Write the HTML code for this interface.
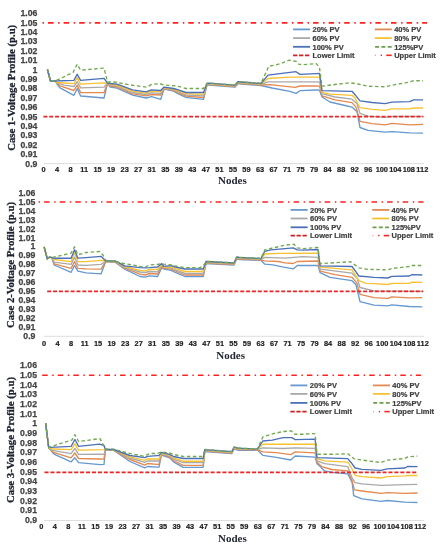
<!DOCTYPE html>
<html><head><meta charset="utf-8"><style>
html,body{margin:0;padding:0;background:#fff;width:442px;height:550px;overflow:hidden}
svg{display:block;filter:blur(0.35px)}
.yl{font-family:"Liberation Sans",sans-serif;font-weight:bold;font-size:8.7px;fill:#444;stroke:#444;stroke-width:0.25px}
.xl{font-family:"Liberation Sans",sans-serif;font-weight:bold;font-size:7.4px;fill:#222;stroke:#222;stroke-width:0.2px}
.lg{font-family:"Liberation Sans",sans-serif;font-weight:bold;font-size:7.5px;fill:#3f3f3f;stroke:#3f3f3f;stroke-width:0.22px}
.tt{font-family:"Liberation Serif",serif;font-weight:bold;font-size:10.75px;fill:#1c2230;stroke:#1c2230;stroke-width:0.3px}
.nd{font-family:"Liberation Serif",serif;font-weight:bold;font-size:11px;fill:#1f2430}
</style></head><body>
<svg width="442" height="550" viewBox="0 0 442 550">

<text class="yl" x="37.4" y="16.2" text-anchor="end">1.06</text>
<text class="yl" x="37.4" y="25.6" text-anchor="end">1.05</text>
<text class="yl" x="37.4" y="35.0" text-anchor="end">1.04</text>
<text class="yl" x="37.4" y="44.4" text-anchor="end">1.03</text>
<text class="yl" x="37.4" y="53.8" text-anchor="end">1.02</text>
<text class="yl" x="37.4" y="63.2" text-anchor="end">1.01</text>
<text class="yl" x="37.4" y="72.6" text-anchor="end">1</text>
<text class="yl" x="37.4" y="82.0" text-anchor="end">0.99</text>
<text class="yl" x="37.4" y="91.4" text-anchor="end">0.98</text>
<text class="yl" x="37.4" y="100.7" text-anchor="end">0.97</text>
<text class="yl" x="37.4" y="110.1" text-anchor="end">0.96</text>
<text class="yl" x="37.4" y="119.5" text-anchor="end">0.95</text>
<text class="yl" x="37.4" y="128.9" text-anchor="end">0.94</text>
<text class="yl" x="37.4" y="138.3" text-anchor="end">0.93</text>
<text class="yl" x="37.4" y="147.7" text-anchor="end">0.92</text>
<text class="yl" x="37.4" y="157.1" text-anchor="end">0.91</text>
<text class="yl" x="37.4" y="166.5" text-anchor="end">0.9</text>
<text class="tt" x="0" y="0" text-anchor="middle" transform="translate(15.1,87.8) rotate(-90)">Case 1-Voltage Profile (p.u)</text>
<line x1="44" y1="163.6" x2="424" y2="163.6" stroke="#dedede" stroke-width="1"/>
<text class="xl" x="43.5" y="172.2" text-anchor="middle">0</text>
<text class="xl" x="57.0" y="172.2" text-anchor="middle">4</text>
<text class="xl" x="70.6" y="172.2" text-anchor="middle">8</text>
<text class="xl" x="84.1" y="172.2" text-anchor="middle">11</text>
<text class="xl" x="97.6" y="172.2" text-anchor="middle">15</text>
<text class="xl" x="111.1" y="172.2" text-anchor="middle">19</text>
<text class="xl" x="124.7" y="172.2" text-anchor="middle">23</text>
<text class="xl" x="138.2" y="172.2" text-anchor="middle">27</text>
<text class="xl" x="151.7" y="172.2" text-anchor="middle">31</text>
<text class="xl" x="165.3" y="172.2" text-anchor="middle">35</text>
<text class="xl" x="178.8" y="172.2" text-anchor="middle">39</text>
<text class="xl" x="192.3" y="172.2" text-anchor="middle">43</text>
<text class="xl" x="205.9" y="172.2" text-anchor="middle">47</text>
<text class="xl" x="219.4" y="172.2" text-anchor="middle">51</text>
<text class="xl" x="232.9" y="172.2" text-anchor="middle">55</text>
<text class="xl" x="246.4" y="172.2" text-anchor="middle">59</text>
<text class="xl" x="260.0" y="172.2" text-anchor="middle">63</text>
<text class="xl" x="273.5" y="172.2" text-anchor="middle">67</text>
<text class="xl" x="287.0" y="172.2" text-anchor="middle">71</text>
<text class="xl" x="300.6" y="172.2" text-anchor="middle">75</text>
<text class="xl" x="314.1" y="172.2" text-anchor="middle">79</text>
<text class="xl" x="327.6" y="172.2" text-anchor="middle">84</text>
<text class="xl" x="341.2" y="172.2" text-anchor="middle">88</text>
<text class="xl" x="354.7" y="172.2" text-anchor="middle">92</text>
<text class="xl" x="368.2" y="172.2" text-anchor="middle">96</text>
<text class="xl" x="381.8" y="172.2" text-anchor="middle">100</text>
<text class="xl" x="395.3" y="172.2" text-anchor="middle">104</text>
<text class="xl" x="408.8" y="172.2" text-anchor="middle">108</text>
<text class="xl" x="422.3" y="172.2" text-anchor="middle">112</text>
<text class="nd" x="218" y="184.0">Nodes</text>
<polyline points="47.4,69.5 50.5,81.0 55.0,81.0 57.0,84.0 60.0,87.8 73.9,95.3 77.2,88.5 80.6,96.0 104.0,98.0 107.5,83.4 110.2,87.0 117.0,88.1 132.6,95.2 146.0,98.0 151.6,96.6 160.7,99.3 164.1,89.1 173.6,91.2 178.4,93.9 185.9,97.3 203.5,99.3 207.1,84.6 208.7,85.2 234.8,87.2 238.0,83.7 241.2,84.0 261.0,85.5 272.0,88.0 290.0,91.4 296.0,93.4 300.0,90.7 316.0,90.0 319.5,90.2 322.0,97.0 330.0,102.0 345.0,105.5 352.0,107.1 357.0,111.7 360.0,127.5 368.0,130.3 385.0,132.1 392.0,131.6 409.7,132.9 423.0,133.2" fill="none" stroke="#6699D0" stroke-width="1.35" stroke-linejoin="round"/>
<polyline points="47.4,69.5 50.5,81.0 55.0,81.0 57.0,83.0 60.0,85.8 73.9,90.5 77.2,85.1 80.6,92.6 104.0,92.6 107.5,83.2 110.2,86.0 117.0,87.0 132.6,93.9 146.0,95.9 151.6,94.5 160.7,95.0 164.1,88.6 173.6,90.5 178.4,92.8 185.9,96.2 203.5,97.5 207.1,84.3 208.7,84.7 234.8,86.7 238.0,83.2 241.2,83.5 261.0,85.0 270.0,84.6 295.0,87.3 300.0,86.0 316.0,86.0 319.5,86.1 322.0,95.8 335.0,99.8 352.0,102.6 356.0,107.1 360.0,121.3 372.0,123.7 385.0,124.8 392.0,123.4 409.7,124.8 423.0,124.3" fill="none" stroke="#E38A52" stroke-width="1.35" stroke-linejoin="round"/>
<polyline points="47.4,69.5 50.5,81.0 55.0,81.0 56.2,82.4 64.0,85.1 73.9,86.5 77.2,81.7 80.6,87.8 104.0,87.1 107.5,83.0 110.2,85.1 117.0,86.0 132.6,92.5 146.0,94.5 151.6,92.8 160.7,93.3 164.1,88.1 173.6,89.9 178.4,91.8 185.9,95.0 203.5,95.9 207.1,84.0 208.7,84.2 234.8,86.2 238.0,82.7 241.2,83.0 261.0,84.5 268.0,81.9 316.0,81.9 319.5,82.0 322.0,93.6 335.0,97.0 352.0,99.2 357.0,103.8 360.0,113.4 368.0,116.2 385.0,117.3 392.0,116.5 423.0,116.3" fill="none" stroke="#A9A9A9" stroke-width="1.35" stroke-linejoin="round"/>
<polyline points="47.4,69.5 50.5,81.0 55.0,81.0 56.2,82.4 64.0,83.0 73.9,83.7 77.2,77.6 80.6,84.2 104.0,82.8 107.5,83.0 110.2,84.3 117.0,85.0 132.6,91.2 146.0,93.2 151.6,91.2 160.7,91.9 164.1,87.6 173.6,89.2 178.4,90.8 185.9,93.7 203.5,94.3 207.1,83.6 208.7,83.7 234.8,85.7 238.0,82.2 241.2,82.5 261.0,84.0 268.0,78.5 290.0,77.1 316.0,77.1 319.5,77.3 322.0,92.4 330.0,94.1 352.0,95.3 355.0,98.1 360.0,107.7 372.0,109.3 385.0,110.3 392.0,108.9 409.7,108.9 413.7,108.0 423.0,108.0" fill="none" stroke="#F7C232" stroke-width="1.35" stroke-linejoin="round"/>
<polyline points="47.4,69.5 50.5,81.0 55.0,81.0 73.9,80.4 77.2,74.2 80.6,80.4 104.0,78.3 107.5,83.0 110.2,83.5 117.0,84.1 132.6,89.8 146.0,91.9 151.6,89.8 160.7,90.5 164.1,87.1 173.6,88.5 178.4,89.8 185.9,92.5 203.5,92.5 207.1,83.3 208.7,83.2 234.8,85.2 238.0,81.7 241.2,82.0 261.0,83.5 268.0,75.1 290.0,72.4 296.0,71.7 300.0,74.4 316.0,73.7 319.5,73.5 322.0,90.7 352.0,91.3 355.0,94.7 360.0,100.9 372.0,102.5 385.0,103.6 392.0,102.1 409.7,101.6 413.7,99.8 423.0,99.8" fill="none" stroke="#4A70B8" stroke-width="1.35" stroke-linejoin="round"/>
<polyline points="47.4,69.5 50.5,81.0 55.0,81.0 73.0,72.5 77.2,64.3 80.6,70.2 104.0,68.1 107.5,82.0 115.0,82.0 127.0,84.4 135.3,85.7 146.8,87.1 151.6,84.4 160.0,83.7 164.0,85.0 173.6,85.7 178.4,86.4 185.9,88.5 203.5,88.5 207.1,83.2 208.7,83.0 234.8,85.0 238.0,81.5 241.2,81.8 261.0,83.3 268.8,66.3 275.6,64.9 282.4,62.9 289.1,60.2 296.6,61.5 298.6,64.2 302.7,64.7 309.5,64.2 316.3,63.6 319.5,67.6 322.0,86.2 335.0,84.5 350.0,82.8 358.0,84.0 368.0,86.2 385.0,86.8 392.0,85.2 409.7,82.0 413.7,80.7 423.0,80.7" fill="none" stroke="#74A84E" stroke-width="1.35" stroke-linejoin="round" stroke-dasharray="3.5 2.5"/>
<line x1="42.5" y1="22.9" x2="427" y2="22.9" stroke="#FF2020" stroke-width="1.6" stroke-dasharray="1.5 4 5.5 4.59"/>
<line x1="43.4" y1="116.6" x2="423.5" y2="116.6" stroke="#EA2626" stroke-width="1.8" stroke-dasharray="4 1.83"/>
<line x1="293.1" y1="29.4" x2="310.1" y2="29.4" stroke="#6699D0" stroke-width="1.8"/>
<text class="lg" x="312.5" y="32.1">20% PV</text>
<line x1="374.8" y1="29.4" x2="391.8" y2="29.4" stroke="#E38A52" stroke-width="1.8"/>
<text class="lg" x="394.2" y="32.1">40% PV</text>
<line x1="293.1" y1="38.1" x2="310.1" y2="38.1" stroke="#A9A9A9" stroke-width="1.8"/>
<text class="lg" x="312.5" y="40.8">60% PV</text>
<line x1="374.8" y1="38.1" x2="391.8" y2="38.1" stroke="#F7C232" stroke-width="1.8"/>
<text class="lg" x="394.2" y="40.8">80% PV</text>
<line x1="293.1" y1="46.8" x2="310.1" y2="46.8" stroke="#4A70B8" stroke-width="1.8"/>
<text class="lg" x="312.5" y="49.5">100% PV</text>
<line x1="375.1" y1="46.8" x2="391.8" y2="46.8" stroke="#6E9E4C" stroke-width="1.7" stroke-dasharray="4 2.3"/>
<text class="lg" x="394.2" y="49.5">125%PV</text>
<line x1="293.1" y1="55.3" x2="309.3" y2="55.3" stroke="#D42020" stroke-width="1.7" stroke-dasharray="4.3 1.65"/>
<text class="lg" x="312.5" y="58.0">Lower Limit</text>
<line x1="374.90000000000003" y1="55.3" x2="375.90000000000003" y2="55.3" stroke="#FF9090" stroke-width="1.4"/>
<line x1="380.7" y1="55.3" x2="382.0" y2="55.3" stroke="#FF2020" stroke-width="1.5"/>
<line x1="386.3" y1="55.3" x2="391.7" y2="55.3" stroke="#FF2020" stroke-width="1.6"/>
<text class="lg" x="394.2" y="58.0">Upper Limit</text>
<text class="yl" x="35.4" y="195.6" text-anchor="end">1.06</text>
<text class="yl" x="35.4" y="204.6" text-anchor="end">1.05</text>
<text class="yl" x="35.4" y="213.5" text-anchor="end">1.04</text>
<text class="yl" x="35.4" y="222.5" text-anchor="end">1.03</text>
<text class="yl" x="35.4" y="231.5" text-anchor="end">1.02</text>
<text class="yl" x="35.4" y="240.5" text-anchor="end">1.01</text>
<text class="yl" x="35.4" y="249.4" text-anchor="end">1</text>
<text class="yl" x="35.4" y="258.4" text-anchor="end">0.99</text>
<text class="yl" x="35.4" y="267.4" text-anchor="end">0.98</text>
<text class="yl" x="35.4" y="276.4" text-anchor="end">0.97</text>
<text class="yl" x="35.4" y="285.4" text-anchor="end">0.96</text>
<text class="yl" x="35.4" y="294.3" text-anchor="end">0.95</text>
<text class="yl" x="35.4" y="303.3" text-anchor="end">0.94</text>
<text class="yl" x="35.4" y="312.3" text-anchor="end">0.93</text>
<text class="yl" x="35.4" y="321.2" text-anchor="end">0.92</text>
<text class="yl" x="35.4" y="330.2" text-anchor="end">0.91</text>
<text class="yl" x="35.4" y="339.2" text-anchor="end">0.9</text>
<text class="tt" x="0" y="0" text-anchor="middle" transform="translate(14.1,264.9) rotate(-90)">Case 2-Voltage Profile (p.u)</text>
<line x1="44" y1="336.3" x2="424" y2="336.3" stroke="#dedede" stroke-width="1"/>
<text class="xl" x="44.0" y="346.1" text-anchor="middle">0</text>
<text class="xl" x="57.5" y="346.1" text-anchor="middle">4</text>
<text class="xl" x="71.1" y="346.1" text-anchor="middle">8</text>
<text class="xl" x="84.6" y="346.1" text-anchor="middle">11</text>
<text class="xl" x="98.1" y="346.1" text-anchor="middle">15</text>
<text class="xl" x="111.6" y="346.1" text-anchor="middle">19</text>
<text class="xl" x="125.2" y="346.1" text-anchor="middle">23</text>
<text class="xl" x="138.7" y="346.1" text-anchor="middle">27</text>
<text class="xl" x="152.2" y="346.1" text-anchor="middle">31</text>
<text class="xl" x="165.8" y="346.1" text-anchor="middle">35</text>
<text class="xl" x="179.3" y="346.1" text-anchor="middle">39</text>
<text class="xl" x="192.8" y="346.1" text-anchor="middle">43</text>
<text class="xl" x="206.4" y="346.1" text-anchor="middle">47</text>
<text class="xl" x="219.9" y="346.1" text-anchor="middle">51</text>
<text class="xl" x="233.4" y="346.1" text-anchor="middle">55</text>
<text class="xl" x="246.9" y="346.1" text-anchor="middle">59</text>
<text class="xl" x="260.5" y="346.1" text-anchor="middle">63</text>
<text class="xl" x="274.0" y="346.1" text-anchor="middle">67</text>
<text class="xl" x="287.5" y="346.1" text-anchor="middle">71</text>
<text class="xl" x="301.1" y="346.1" text-anchor="middle">75</text>
<text class="xl" x="314.6" y="346.1" text-anchor="middle">79</text>
<text class="xl" x="328.1" y="346.1" text-anchor="middle">84</text>
<text class="xl" x="341.7" y="346.1" text-anchor="middle">88</text>
<text class="xl" x="355.2" y="346.1" text-anchor="middle">92</text>
<text class="xl" x="368.7" y="346.1" text-anchor="middle">96</text>
<text class="xl" x="382.2" y="346.1" text-anchor="middle">100</text>
<text class="xl" x="395.8" y="346.1" text-anchor="middle">104</text>
<text class="xl" x="409.3" y="346.1" text-anchor="middle">108</text>
<text class="xl" x="422.8" y="346.1" text-anchor="middle">112</text>
<text class="nd" x="216.2" y="359.3">Nodes</text>
<polyline points="44.1,246.9 47.3,258.8 49.6,257.1 51.8,257.6 54.1,265.0 71.1,272.3 74.5,265.5 77.9,271.2 86.0,272.9 101.0,273.9 105.7,261.6 111.1,262.0 115.2,262.2 124.7,269.2 140.0,276.5 145.4,277.1 149.5,275.8 157.6,276.5 161.7,267.6 163.7,269.0 171.2,270.4 175.3,272.4 184.8,276.5 200.0,276.5 203.2,276.5 206.0,263.8 206.0,263.5 234.0,265.0 236.7,259.0 239.4,259.5 259.3,260.4 260.7,260.0 264.8,264.2 272.9,264.9 282.4,266.9 293.2,268.9 297.3,265.5 318.0,265.3 320.1,272.6 330.0,277.3 352.0,280.7 356.0,284.8 360.0,301.7 374.0,305.1 387.7,305.8 391.8,304.9 409.4,306.5 422.3,306.8" fill="none" stroke="#6699D0" stroke-width="1.35" stroke-linejoin="round"/>
<polyline points="44.1,246.9 47.3,258.8 49.6,257.1 51.8,257.6 54.1,263.8 71.1,268.4 74.5,261.6 77.9,268.4 86.0,268.9 101.0,269.2 105.7,261.4 111.1,261.8 115.2,261.9 124.7,268.2 140.0,274.2 145.4,275.0 149.5,273.5 157.6,274.0 161.7,266.5 163.7,268.3 171.2,269.2 175.3,271.0 184.8,275.0 200.0,275.0 203.2,275.0 206.0,263.4 206.0,263.0 234.0,264.5 236.7,258.5 239.4,259.0 259.3,259.9 260.7,259.8 264.8,260.8 278.4,261.5 285.1,262.8 293.2,263.5 297.3,261.5 318.0,261.0 320.1,271.2 335.0,274.6 352.0,277.3 357.0,283.4 360.0,294.3 374.0,297.7 387.7,298.3 391.8,296.8 409.4,297.8 422.3,297.6" fill="none" stroke="#E38A52" stroke-width="1.35" stroke-linejoin="round"/>
<polyline points="44.1,246.9 47.3,258.8 49.6,257.1 51.8,257.6 54.1,262.1 71.1,264.4 74.5,257.1 77.9,265.0 86.0,265.3 101.0,264.4 105.7,261.2 111.1,261.5 115.2,261.6 124.7,267.3 140.0,272.0 145.4,272.5 149.5,271.5 157.6,271.8 161.7,265.5 163.7,267.6 171.2,268.0 175.3,269.8 184.8,273.5 200.0,273.5 203.2,273.5 206.0,263.0 206.0,262.5 234.0,264.0 236.7,258.0 239.4,258.5 259.3,259.4 260.7,259.5 264.8,257.4 285.1,258.1 302.8,256.7 318.0,257.3 320.1,269.2 352.0,273.2 357.0,278.0 360.0,287.5 374.0,290.9 422.3,291.3" fill="none" stroke="#A9A9A9" stroke-width="1.35" stroke-linejoin="round"/>
<polyline points="44.1,246.9 47.3,258.8 49.6,257.1 51.8,257.6 54.1,259.5 71.1,261.6 74.5,253.1 77.9,261.6 86.0,261.6 101.0,260.4 105.7,261.0 108.4,261.7 111.1,261.2 115.2,261.3 124.7,266.5 140.0,270.4 145.4,270.8 149.5,269.5 157.6,269.5 161.7,264.5 163.7,267.0 171.2,266.8 175.3,268.3 184.8,271.5 200.0,271.5 203.2,271.5 206.0,262.6 206.0,262.0 234.0,263.5 236.7,257.5 239.4,258.0 259.3,258.9 260.7,259.2 264.8,254.0 278.4,253.3 318.0,253.2 320.1,267.1 352.0,269.9 358.8,280.7 366.0,283.4 374.0,283.7 387.7,284.5 391.8,283.4 409.4,283.4 412.1,282.1 422.3,282.3" fill="none" stroke="#F7C232" stroke-width="1.35" stroke-linejoin="round"/>
<polyline points="44.1,246.9 47.3,258.8 49.6,257.1 51.8,257.6 54.1,258.2 71.1,258.2 74.5,249.7 77.9,258.2 86.0,257.6 101.0,256.3 105.7,261.0 111.1,260.8 115.2,260.8 124.7,265.8 140.0,267.6 145.4,267.8 149.5,267.6 157.6,267.0 161.7,263.6 163.7,266.3 171.2,265.6 175.3,267.0 184.8,269.0 200.0,269.0 203.2,269.0 206.0,262.0 206.0,261.5 234.0,263.0 236.7,257.0 239.4,257.5 259.3,258.4 260.7,259.0 264.8,251.3 270.8,249.9 285.1,248.6 293.2,247.9 297.3,249.9 302.8,250.2 318.0,249.5 320.1,265.8 352.0,266.5 356.0,271.9 358.8,276.0 374.0,277.3 387.7,278.0 391.8,276.4 409.4,276.0 412.1,274.6 422.3,275.0" fill="none" stroke="#4A70B8" stroke-width="1.35" stroke-linejoin="round"/>
<polyline points="44.1,246.9 47.3,258.8 49.6,257.1 51.8,257.6 71.1,253.1 74.5,246.9 77.9,254.8 86.0,252.5 99.6,251.5 103.0,254.9 105.7,260.4 111.1,260.8 124.7,263.7 140.0,266.3 145.4,267.0 149.5,264.9 157.6,264.5 161.7,263.6 163.7,264.2 171.2,264.9 175.3,266.0 184.8,267.6 200.0,267.6 203.2,266.0 206.0,261.8 206.0,261.3 234.0,262.8 236.7,256.8 239.4,257.3 259.3,258.2 260.7,258.9 264.8,249.9 272.9,247.9 285.1,245.2 294.0,244.2 297.3,247.9 302.8,248.6 312.3,247.9 318.0,247.5 320.1,263.7 350.6,261.7 358.8,267.8 366.0,269.2 387.7,269.9 391.8,268.5 409.4,266.5 412.1,265.5 422.3,265.5" fill="none" stroke="#74A84E" stroke-width="1.35" stroke-linejoin="round" stroke-dasharray="3.5 2.5"/>
<line x1="38.6" y1="202.0" x2="423.5" y2="202.0" stroke="#FF2020" stroke-width="1.6" stroke-dasharray="1.5 4 5.5 4.59"/>
<line x1="47.2" y1="291.4" x2="423.2" y2="291.4" stroke="#EA2626" stroke-width="1.8" stroke-dasharray="4 1.85"/>
<line x1="290.6" y1="209.9" x2="307.6" y2="209.9" stroke="#6699D0" stroke-width="1.8"/>
<text class="lg" x="310.0" y="212.6">20% PV</text>
<line x1="372.2" y1="209.9" x2="389.2" y2="209.9" stroke="#E38A52" stroke-width="1.8"/>
<text class="lg" x="391.6" y="212.6">40% PV</text>
<line x1="290.6" y1="218.5" x2="307.6" y2="218.5" stroke="#A9A9A9" stroke-width="1.8"/>
<text class="lg" x="310.0" y="221.2">60% PV</text>
<line x1="372.2" y1="218.5" x2="389.2" y2="218.5" stroke="#F7C232" stroke-width="1.8"/>
<text class="lg" x="391.6" y="221.2">80% PV</text>
<line x1="290.6" y1="227.3" x2="307.6" y2="227.3" stroke="#4A70B8" stroke-width="1.8"/>
<text class="lg" x="310.0" y="230.0">100% PV</text>
<line x1="372.5" y1="227.3" x2="389.2" y2="227.3" stroke="#6E9E4C" stroke-width="1.7" stroke-dasharray="4 2.3"/>
<text class="lg" x="391.6" y="230.0">125%PV</text>
<line x1="290.6" y1="235.6" x2="306.8" y2="235.6" stroke="#D42020" stroke-width="1.7" stroke-dasharray="4.3 1.65"/>
<text class="lg" x="310.0" y="238.3">Lower Limit</text>
<line x1="372.3" y1="235.6" x2="373.3" y2="235.6" stroke="#FF9090" stroke-width="1.4"/>
<line x1="378.09999999999997" y1="235.6" x2="379.4" y2="235.6" stroke="#FF2020" stroke-width="1.5"/>
<line x1="383.7" y1="235.6" x2="389.09999999999997" y2="235.6" stroke="#FF2020" stroke-width="1.6"/>
<text class="lg" x="391.6" y="238.3">Upper Limit</text>
<text class="yl" x="37.0" y="368.2" text-anchor="end">1.06</text>
<text class="yl" x="37.0" y="377.9" text-anchor="end">1.05</text>
<text class="yl" x="37.0" y="387.5" text-anchor="end">1.04</text>
<text class="yl" x="37.0" y="397.2" text-anchor="end">1.03</text>
<text class="yl" x="37.0" y="406.8" text-anchor="end">1.02</text>
<text class="yl" x="37.0" y="416.5" text-anchor="end">1.01</text>
<text class="yl" x="37.0" y="426.2" text-anchor="end">1</text>
<text class="yl" x="37.0" y="435.8" text-anchor="end">0.99</text>
<text class="yl" x="37.0" y="445.5" text-anchor="end">0.98</text>
<text class="yl" x="37.0" y="455.2" text-anchor="end">0.97</text>
<text class="yl" x="37.0" y="464.8" text-anchor="end">0.96</text>
<text class="yl" x="37.0" y="474.5" text-anchor="end">0.95</text>
<text class="yl" x="37.0" y="484.1" text-anchor="end">0.94</text>
<text class="yl" x="37.0" y="493.8" text-anchor="end">0.93</text>
<text class="yl" x="37.0" y="503.5" text-anchor="end">0.92</text>
<text class="yl" x="37.0" y="513.1" text-anchor="end">0.91</text>
<text class="yl" x="37.0" y="522.8" text-anchor="end">0.9</text>
<text class="tt" x="0" y="0" text-anchor="middle" transform="translate(14.4,440.0) rotate(-90)">Case 3-Voltage Profile (p.u)</text>
<line x1="44" y1="520.5" x2="424" y2="520.5" stroke="#dedede" stroke-width="1"/>
<text class="xl" x="41.3" y="529.3" text-anchor="middle">0</text>
<text class="xl" x="54.8" y="529.3" text-anchor="middle">4</text>
<text class="xl" x="68.4" y="529.3" text-anchor="middle">8</text>
<text class="xl" x="81.9" y="529.3" text-anchor="middle">11</text>
<text class="xl" x="95.4" y="529.3" text-anchor="middle">15</text>
<text class="xl" x="108.9" y="529.3" text-anchor="middle">19</text>
<text class="xl" x="122.5" y="529.3" text-anchor="middle">23</text>
<text class="xl" x="136.0" y="529.3" text-anchor="middle">27</text>
<text class="xl" x="149.5" y="529.3" text-anchor="middle">31</text>
<text class="xl" x="163.1" y="529.3" text-anchor="middle">35</text>
<text class="xl" x="176.6" y="529.3" text-anchor="middle">39</text>
<text class="xl" x="190.1" y="529.3" text-anchor="middle">43</text>
<text class="xl" x="203.7" y="529.3" text-anchor="middle">47</text>
<text class="xl" x="217.2" y="529.3" text-anchor="middle">51</text>
<text class="xl" x="230.7" y="529.3" text-anchor="middle">55</text>
<text class="xl" x="244.2" y="529.3" text-anchor="middle">59</text>
<text class="xl" x="257.8" y="529.3" text-anchor="middle">63</text>
<text class="xl" x="271.3" y="529.3" text-anchor="middle">67</text>
<text class="xl" x="284.8" y="529.3" text-anchor="middle">71</text>
<text class="xl" x="298.4" y="529.3" text-anchor="middle">75</text>
<text class="xl" x="311.9" y="529.3" text-anchor="middle">79</text>
<text class="xl" x="325.4" y="529.3" text-anchor="middle">84</text>
<text class="xl" x="339.0" y="529.3" text-anchor="middle">88</text>
<text class="xl" x="352.5" y="529.3" text-anchor="middle">92</text>
<text class="xl" x="366.0" y="529.3" text-anchor="middle">96</text>
<text class="xl" x="379.6" y="529.3" text-anchor="middle">100</text>
<text class="xl" x="393.1" y="529.3" text-anchor="middle">104</text>
<text class="xl" x="406.6" y="529.3" text-anchor="middle">108</text>
<text class="xl" x="420.1" y="529.3" text-anchor="middle">112</text>
<text class="nd" x="218" y="542.4">Nodes</text>
<polyline points="45.6,423.0 48.7,447.6 53.5,453.7 56.2,455.1 71.1,461.9 74.9,457.8 78.6,462.6 100.0,464.6 104.0,464.4 105.4,449.7 113.6,450.3 129.9,461.5 144.8,467.8 147.5,466.5 157.0,467.1 159.0,467.1 161.4,455.1 169.6,457.8 173.6,461.9 183.1,467.3 200.8,467.3 203.2,467.3 204.8,451.5 204.8,451.7 231.7,453.7 234.0,449.2 238.0,450.2 257.4,450.1 262.8,455.3 276.4,457.3 290.6,460.0 295.3,456.0 315.1,457.1 317.0,463.7 320.2,466.6 324.6,470.9 331.8,472.4 347.8,473.9 352.2,482.6 353.7,495.7 362.0,498.9 381.0,501.3 387.3,500.5 404.8,502.1 417.4,502.5" fill="none" stroke="#6699D0" stroke-width="1.35" stroke-linejoin="round"/>
<polyline points="45.6,423.0 48.7,447.6 52.1,451.0 53.5,452.4 71.1,457.8 74.9,453.0 78.6,458.5 100.0,459.0 104.0,459.2 105.4,449.6 113.6,450.1 129.9,459.5 144.8,465.1 147.5,463.5 157.0,464.4 159.0,464.4 161.4,454.4 169.6,457.0 173.6,460.5 183.1,465.3 200.8,465.3 203.2,465.3 204.8,451.0 204.8,451.2 231.7,453.2 234.0,448.7 238.0,449.7 257.4,449.9 262.8,451.9 276.4,452.6 290.6,454.6 295.3,451.9 315.1,452.8 317.0,462.2 321.6,466.6 331.8,469.5 347.8,470.9 352.2,481.1 354.4,489.9 362.0,491.0 381.0,493.4 387.3,492.6 404.8,493.4 417.4,493.0" fill="none" stroke="#E38A52" stroke-width="1.35" stroke-linejoin="round"/>
<polyline points="45.6,423.0 48.7,447.6 52.1,450.4 71.1,453.7 74.9,448.3 78.6,454.4 100.0,454.2 104.0,454.4 105.4,449.5 113.6,449.9 129.9,458.0 144.8,462.4 147.5,461.0 157.0,461.0 159.0,461.0 161.4,453.8 169.6,456.1 173.6,459.2 183.1,462.6 200.8,462.6 203.2,462.6 204.8,450.5 204.8,450.7 231.7,452.7 234.0,448.2 238.0,449.2 257.4,449.6 262.8,447.8 283.1,448.5 295.3,447.8 315.1,448.4 317.0,460.8 324.6,463.7 347.8,466.6 352.2,478.2 355.1,482.6 362.0,483.8 381.0,485.4 404.8,484.6 417.4,484.3" fill="none" stroke="#A9A9A9" stroke-width="1.35" stroke-linejoin="round"/>
<polyline points="45.6,423.0 48.7,447.6 52.1,449.0 71.1,449.7 74.9,443.6 78.6,450.1 104.0,449.7 105.4,449.5 113.6,449.7 129.9,456.8 144.8,460.4 147.5,458.8 157.0,459.0 159.0,459.0 161.4,453.1 169.6,455.2 173.6,457.8 183.1,461.2 200.8,461.2 203.2,461.2 204.8,450.0 204.8,450.2 231.7,452.2 234.0,447.7 238.0,448.7 257.4,449.4 262.8,444.2 315.1,444.1 317.0,458.6 324.6,460.8 347.8,462.2 351.5,468.0 355.1,475.3 362.0,476.7 381.0,478.0 387.3,476.7 404.8,475.9 407.9,475.5 417.4,475.5" fill="none" stroke="#F7C232" stroke-width="1.35" stroke-linejoin="round"/>
<polyline points="45.6,423.0 48.7,447.6 50.7,447.3 71.1,446.3 74.9,439.5 78.6,446.3 99.6,444.2 104.0,445.5 105.4,449.5 113.6,449.5 129.9,455.5 144.8,457.6 147.5,456.3 157.0,455.6 159.0,455.6 161.4,452.4 169.6,454.4 173.6,456.5 183.1,458.5 200.8,458.5 203.2,458.5 204.8,449.5 204.8,449.7 231.7,451.7 234.0,447.2 238.0,448.2 257.4,449.1 262.8,441.0 272.3,440.1 283.1,437.6 292.0,437.6 295.3,439.7 315.1,439.2 317.0,457.6 347.8,458.6 350.8,462.2 355.1,468.0 362.0,469.3 381.0,470.4 387.3,468.8 404.8,468.0 407.9,466.4 417.4,466.7" fill="none" stroke="#4A70B8" stroke-width="1.35" stroke-linejoin="round"/>
<polyline points="45.6,423.0 48.7,447.6 58.6,444.0 71.8,440.2 74.9,434.7 78.6,441.5 98.3,438.8 100.0,438.6 104.0,446.3 105.4,449.0 113.6,449.2 127.1,452.8 143.4,456.2 150.2,453.5 157.0,453.5 161.4,452.0 169.6,453.0 173.6,454.4 183.1,456.5 200.8,456.5 203.2,456.5 204.8,449.3 204.8,449.5 231.7,451.5 234.0,447.0 238.0,448.0 257.4,449.0 262.8,437.0 270.9,434.2 283.1,431.5 291.3,430.9 294.7,434.2 303.5,434.2 313.0,433.6 315.1,433.8 317.0,454.2 334.7,454.2 347.8,453.8 353.7,458.6 362.0,460.1 381.0,462.5 387.3,460.1 404.8,458.5 407.9,456.9 417.4,456.1" fill="none" stroke="#74A84E" stroke-width="1.35" stroke-linejoin="round" stroke-dasharray="3.5 2.5"/>
<line x1="42.2" y1="375.3" x2="421" y2="375.3" stroke="#FF2020" stroke-width="1.6" stroke-dasharray="5.5 4.5 1.5 4.07"/>
<line x1="44.5" y1="472.4" x2="417.5" y2="472.4" stroke="#EA2626" stroke-width="1.8" stroke-dasharray="4.1 1.83"/>
<line x1="290.4" y1="385.4" x2="307.4" y2="385.4" stroke="#6699D0" stroke-width="1.8"/>
<text class="lg" x="309.8" y="388.1">20% PV</text>
<line x1="372.9" y1="385.4" x2="389.9" y2="385.4" stroke="#E38A52" stroke-width="1.8"/>
<text class="lg" x="392.3" y="388.1">40% PV</text>
<line x1="290.4" y1="393.9" x2="307.4" y2="393.9" stroke="#A9A9A9" stroke-width="1.8"/>
<text class="lg" x="309.8" y="396.6">60% PV</text>
<line x1="372.9" y1="393.9" x2="389.9" y2="393.9" stroke="#F7C232" stroke-width="1.8"/>
<text class="lg" x="392.3" y="396.6">80% PV</text>
<line x1="290.4" y1="402.9" x2="307.4" y2="402.9" stroke="#4A70B8" stroke-width="1.8"/>
<text class="lg" x="309.8" y="405.6">100% PV</text>
<line x1="373.2" y1="402.9" x2="389.9" y2="402.9" stroke="#6E9E4C" stroke-width="1.7" stroke-dasharray="4 2.3"/>
<text class="lg" x="392.3" y="405.6">125%PV</text>
<line x1="290.4" y1="411.6" x2="306.59999999999997" y2="411.6" stroke="#D42020" stroke-width="1.7" stroke-dasharray="4.3 1.65"/>
<text class="lg" x="309.8" y="414.3">Lower Limit</text>
<line x1="373.0" y1="411.6" x2="374.0" y2="411.6" stroke="#FF9090" stroke-width="1.4"/>
<line x1="378.79999999999995" y1="411.6" x2="380.09999999999997" y2="411.6" stroke="#FF2020" stroke-width="1.5"/>
<line x1="384.4" y1="411.6" x2="389.79999999999995" y2="411.6" stroke="#FF2020" stroke-width="1.6"/>
<text class="lg" x="392.3" y="414.3">Upper Limit</text>
</svg></body></html>
